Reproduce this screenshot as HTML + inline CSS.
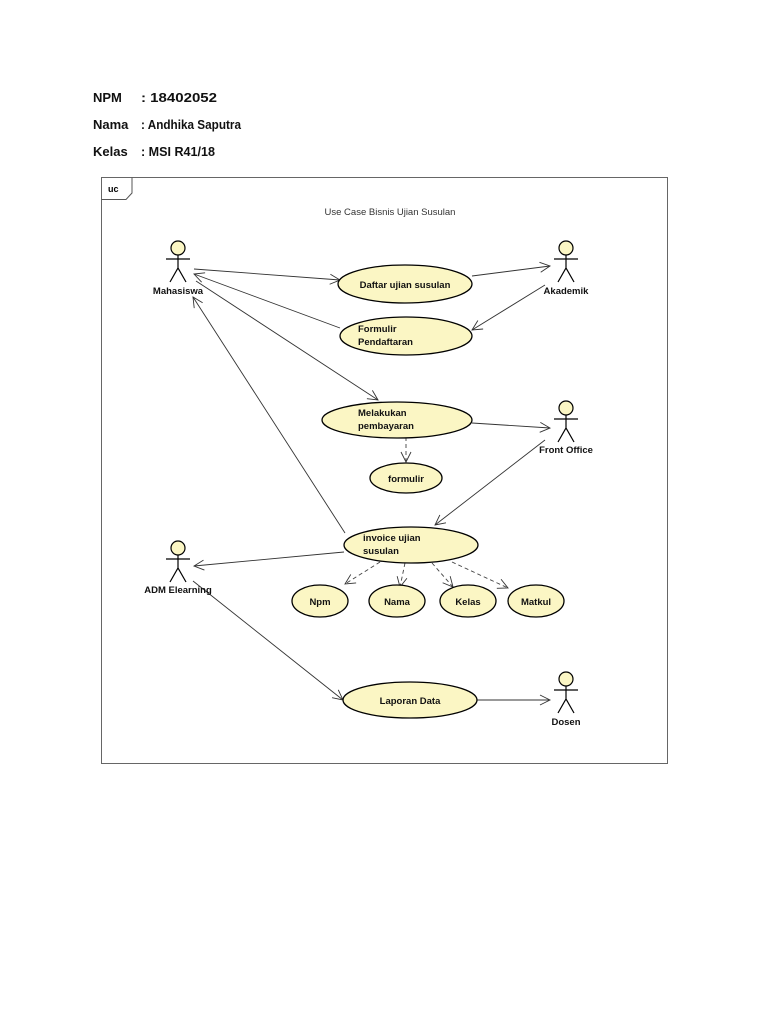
<!DOCTYPE html>
<html><head><meta charset="utf-8"><style>
html,body{margin:0;padding:0;background:#fff;}
svg{display:block;}
.h{font-family:"Liberation Sans",sans-serif;font-size:13px;font-weight:bold;fill:#111;}
.l{font-family:"Liberation Sans",sans-serif;font-size:9.5px;font-weight:bold;fill:#111;}
.u{fill:#fbf6c4;stroke:#000;stroke-width:1.3;}
.ln{stroke:#333;stroke-width:0.9;fill:none;}
.d{stroke:#444;stroke-width:0.9;fill:none;stroke-dasharray:4,3;}
.a{stroke:#333;stroke-width:0.9;fill:none;}
</style></head><body>
<svg width="768" height="1024" viewBox="0 0 768 1024" xmlns="http://www.w3.org/2000/svg">
<defs>
<marker id="ar" markerWidth="12" markerHeight="12" refX="11" refY="6" orient="auto" markerUnits="userSpaceOnUse">
<path d="M1,1 L11,6 L1,11" class="a"/></marker>
</defs>
<text x="93" y="102" class="h">NPM</text><text x="141" y="102" class="h" textLength="76" lengthAdjust="spacingAndGlyphs">: 18402052</text>
<text x="93" y="129" class="h">Nama</text><text x="141" y="129" class="h" textLength="100" lengthAdjust="spacingAndGlyphs">: Andhika Saputra</text>
<text x="93" y="156" class="h">Kelas</text><text x="141" y="156" class="h" textLength="74" lengthAdjust="spacingAndGlyphs">: MSI R41/18</text>

<rect x="101.5" y="177.5" width="566" height="586" fill="#fff" stroke="#666" stroke-width="1"/>
<path d="M101.5,199.5 H126 L132,193 V177.5" fill="none" stroke="#555" stroke-width="1"/>
<text x="108" y="192" style="font-family:'Liberation Sans',sans-serif;font-size:9px;font-weight:bold">uc</text>
<text x="390" y="215" text-anchor="middle" style="font-family:'Liberation Sans',sans-serif;font-size:9.5px;fill:#333">Use Case Bisnis Ujian Susulan</text>

<line x1="194" y1="269" x2="340" y2="280" class="ln" marker-end="url(#ar)"/>
<line x1="472" y1="276" x2="550" y2="266" class="ln" marker-end="url(#ar)"/>
<line x1="340" y1="328" x2="194" y2="274" class="ln" marker-end="url(#ar)"/>
<line x1="545" y1="285" x2="472" y2="330" class="ln" marker-end="url(#ar)"/>
<line x1="196" y1="281" x2="378" y2="400" class="ln" marker-end="url(#ar)"/>
<line x1="472" y1="423" x2="550" y2="428" class="ln" marker-end="url(#ar)"/>
<line x1="406" y1="437" x2="406" y2="462" class="d" marker-end="url(#ar)"/>
<line x1="545" y1="440" x2="435" y2="525" class="ln" marker-end="url(#ar)"/>
<line x1="345" y1="533" x2="193" y2="297" class="ln" marker-end="url(#ar)"/>
<line x1="344" y1="552" x2="194" y2="566" class="ln" marker-end="url(#ar)"/>
<line x1="380" y1="562" x2="345" y2="584" class="d" marker-end="url(#ar)"/>
<line x1="405" y1="563" x2="400" y2="587" class="d" marker-end="url(#ar)"/>
<line x1="432" y1="563" x2="453" y2="587" class="d" marker-end="url(#ar)"/>
<line x1="452" y1="562" x2="508" y2="588" class="d" marker-end="url(#ar)"/>
<line x1="193" y1="581" x2="343" y2="700" class="ln" marker-end="url(#ar)"/>
<line x1="477" y1="700" x2="550" y2="700" class="ln" marker-end="url(#ar)"/>

<ellipse cx="405" cy="284" rx="67" ry="19" class="u"/><text x="405" y="288" text-anchor="middle" class="l">Daftar ujian susulan</text>
<ellipse cx="406" cy="336" rx="66" ry="19" class="u"/><text x="358" y="332" class="l">Formulir</text><text x="358" y="345" class="l">Pendaftaran</text>
<ellipse cx="397" cy="420" rx="75" ry="18" class="u"/><text x="358" y="416" class="l">Melakukan</text><text x="358" y="429" class="l">pembayaran</text>
<ellipse cx="406" cy="478" rx="36" ry="15" class="u"/><text x="406" y="482" text-anchor="middle" class="l">formulir</text>
<ellipse cx="411" cy="545" rx="67" ry="18" class="u"/><text x="363" y="541" class="l">invoice ujian</text><text x="363" y="554" class="l">susulan</text>
<ellipse cx="320" cy="601" rx="28" ry="16" class="u"/><text x="320" y="605" text-anchor="middle" class="l">Npm</text>
<ellipse cx="397" cy="601" rx="28" ry="16" class="u"/><text x="397" y="605" text-anchor="middle" class="l">Nama</text>
<ellipse cx="468" cy="601" rx="28" ry="16" class="u"/><text x="468" y="605" text-anchor="middle" class="l">Kelas</text>
<ellipse cx="536" cy="601" rx="28" ry="16" class="u"/><text x="536" y="605" text-anchor="middle" class="l">Matkul</text>
<ellipse cx="410" cy="700" rx="67" ry="18" class="u"/><text x="410" y="704" text-anchor="middle" class="l">Laporan Data</text>

<g stroke="#000" stroke-width="1.2" fill="none">
<circle cx="178" cy="248" r="7" fill="#fbf6c4"/><path d="M178,255 V268 M166,259 H190 M170,282 L178,268 L186,282"/>
<circle cx="566" cy="248" r="7" fill="#fbf6c4"/><path d="M566,255 V268 M554,259 H578 M558,282 L566,268 L574,282"/>
<circle cx="566" cy="408" r="7" fill="#fbf6c4"/><path d="M566,415 V428 M554,419 H578 M558,442 L566,428 L574,442"/>
<circle cx="178" cy="548" r="7" fill="#fbf6c4"/><path d="M178,555 V568 M166,559 H190 M170,582 L178,568 L186,582"/>
<circle cx="566" cy="679" r="7" fill="#fbf6c4"/><path d="M566,686 V699 M554,690 H578 M558,713 L566,699 L574,713"/>
</g>
<text x="178" y="294" text-anchor="middle" class="l">Mahasiswa</text>
<text x="566" y="294" text-anchor="middle" class="l">Akademik</text>
<text x="566" y="453" text-anchor="middle" class="l">Front Office</text>
<text x="178" y="593" text-anchor="middle" class="l">ADM Elearning</text>
<text x="566" y="725" text-anchor="middle" class="l">Dosen</text>
</svg>
</body></html>
